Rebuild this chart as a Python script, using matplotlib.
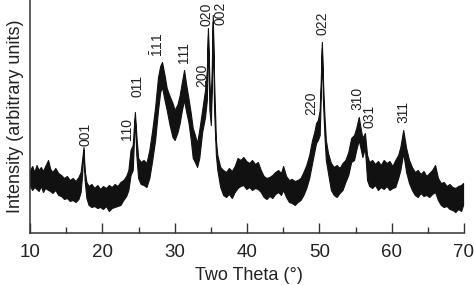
import matplotlib
matplotlib.use("Agg")
import matplotlib.pyplot as plt
from matplotlib.ticker import MultipleLocator

plt.rcParams['font.family'] = ['Liberation Sans', 'DejaVu Sans']

# ---- data (intensity in arbitrary units) ----
two_theta = [10.0, 10.3, 10.6, 10.9, 11.2, 11.5, 11.8, 12.1, 12.5, 12.8, 13.1, 13.5, 13.9, 14.3,
             14.7, 15.1, 15.5, 15.9, 16.3, 16.7, 17.0, 17.2, 17.4, 17.55, 17.8, 18.1, 18.5, 18.9,
             19.3, 19.7, 20.1, 20.5, 20.9, 21.3, 21.7, 22.1, 22.5, 22.9, 23.3, 23.6, 23.9, 24.2,
             24.5, 24.7, 24.95, 25.3, 25.7, 26.1, 26.5, 26.9, 27.3, 27.7, 28.0, 28.25, 28.6, 28.9,
             29.3, 29.7, 30.0, 30.4, 30.7, 31.0, 31.3, 31.6, 31.9, 32.2, 32.5, 32.8, 33.1, 33.4,
             33.8, 34.2, 34.45, 34.6, 34.8, 35.0, 35.15, 35.27, 35.45, 35.7, 35.9, 36.3, 36.7, 37.1,
             37.5, 37.9, 38.3, 38.7, 39.1, 39.5, 39.9, 40.3, 40.7, 41.1, 41.5, 41.9, 42.3, 42.7,
             43.1, 43.5, 43.9, 44.3, 44.7, 45.0, 45.4, 45.8, 46.2, 46.6, 47.0, 47.4, 47.8, 48.2,
             48.6, 49.0, 49.3, 49.55, 49.8, 50.05, 50.2, 50.35, 50.5, 50.7, 50.9, 51.2, 51.6, 52.0,
             52.4, 52.8, 53.2, 53.6, 54.0, 54.4, 54.8, 55.1, 55.45, 55.75, 55.95, 56.3, 56.6, 56.9,
             57.3, 57.7, 58.1, 58.5, 58.9, 59.3, 59.7, 60.1, 60.5, 60.9, 61.2, 61.6, 62.0, 62.4,
             62.8, 63.2, 63.6, 64.0, 64.4, 64.8, 65.2, 65.6, 66.0, 66.4, 66.8, 67.2, 67.6, 68.0,
             68.4, 68.8, 69.2, 69.6, 69.87]

intensity_upper = [63, 67, 61, 68, 63, 66, 62, 67, 73, 64, 61, 65, 60, 58,
                   55, 57, 53, 55, 52, 56, 61, 73, 86, 63, 51, 47, 49, 45,
                   48, 44, 47, 45, 48, 46, 49, 47, 51, 53, 57, 63, 83, 88,
                   121, 98, 75, 71, 73, 70, 83, 103, 126, 156, 167, 171, 158, 145,
                   137, 130, 123, 129, 138, 151, 163, 148, 135, 121, 105, 98, 90, 103,
                   123, 143, 163, 205, 153, 123, 173, 218, 153, 93, 78, 66, 63, 61,
                   65, 62, 67, 75, 73, 76, 72, 70, 73, 69, 71, 63, 57, 55,
                   56, 58, 61, 63, 60, 67, 57, 53, 54, 52, 53, 55, 61, 68,
                   78, 93, 101, 110, 113, 123, 153, 191, 153, 118, 93, 80, 70, 66,
                   68, 65, 70, 73, 81, 95, 98, 105, 116, 103, 95, 100, 78, 71,
                   73, 69, 72, 68, 73, 70, 72, 67, 73, 78, 86, 103, 85, 73,
                   66, 61, 63, 59, 62, 57, 60, 63, 68, 55, 50, 51, 47, 49,
                   46, 45, 47, 48, 50]

intensity_lower = [47, 43, 46, 44, 42, 47, 41, 45, 43, 42, 40, 43, 38, 37,
                   34, 35, 32, 33, 31, 34, 41, 58, 83, 53, 35, 28, 26, 27,
                   25, 26, 24, 27, 22, 25, 26, 27, 28, 33, 37, 43, 58, 63,
                   115, 78, 55, 49, 48, 46, 55, 73, 93, 123, 141, 146, 133, 123,
                   108, 96, 93, 101, 110, 123, 133, 121, 111, 95, 75, 71, 66, 75,
                   101, 116, 133, 198, 123, 108, 153, 211, 123, 78, 63, 46, 38, 36,
                   39, 35, 41, 45, 47, 48, 44, 46, 43, 45, 44, 41, 36, 34,
                   37, 35, 39, 41, 38, 43, 36, 31, 30, 28, 31, 33, 38, 45,
                   55, 70, 81, 90, 93, 98, 138, 185, 133, 98, 73, 60, 43, 38,
                   36, 40, 43, 51, 58, 71, 73, 83, 93, 83, 76, 85, 53, 47,
                   45, 48, 43, 46, 44, 47, 43, 45, 46, 55, 63, 80, 61, 50,
                   43, 38, 36, 40, 37, 38, 36, 39, 41, 33, 28, 26, 27, 24,
                   23, 21, 24, 22, 28]

peak_labels = ['001', '110', '011', r'$\mathregular{\bar{1}11}$', '111', '200', '020', '002',
               '220', '022', '310', '031', '311']
peak_label_x = [17.7, 23.4, 24.8, 27.7, 31.3, 33.8, 34.35, 36.3, 48.85, 50.37, 55.2, 56.87, 61.57]
peak_label_y = [87, 93, 136, 176, 170, 146, 207, 208, 118, 198, 123, 105, 110]

x_ticks = [10, 20, 30, 40, 50, 60, 70]

# ---- figure ----
fig = plt.figure(figsize=(4.74, 2.85), dpi=100)
ax = fig.add_axes([30 / 474, 52 / 285, 434 / 474, 233 / 285])

ax.fill_between(two_theta, intensity_lower, intensity_upper, color='#111111', linewidth=0.8,
                edgecolor='#111111')

for txt, xp, yp in zip(peak_labels, peak_label_x, peak_label_y):
    ax.text(xp, yp, txt, rotation=90, ha='center', va='bottom', fontsize=10, color='#222222')

ax.set_xlim(10, 70)
ax.set_ylim(0, 233)
ax.set_xticks(x_ticks)
ax.xaxis.set_minor_locator(MultipleLocator(5))
ax.set_yticks([])

for s in ['top', 'right']:
    ax.spines[s].set_visible(False)
for s in ['left', 'bottom']:
    ax.spines[s].set_linewidth(1.1)
    ax.spines[s].set_color('#333333')

ax.tick_params(axis='x', which='major', direction='in', length=7, width=1.0, color='#333333',
               labelsize=13.5, pad=8, labelcolor='#222222')
ax.tick_params(axis='x', which='minor', direction='in', length=4, width=1.0, color='#333333')

ax.set_xlabel('Two Theta (°)', fontsize=13, color='#222222')
ax.set_ylabel('Intensity (arbitrary units)', fontsize=13, color='#222222')
ax.xaxis.set_label_coords(0.505, -0.145)
ax.yaxis.set_label_coords(-0.013, 0.5)

fig.savefig('out.png', dpi=100)
